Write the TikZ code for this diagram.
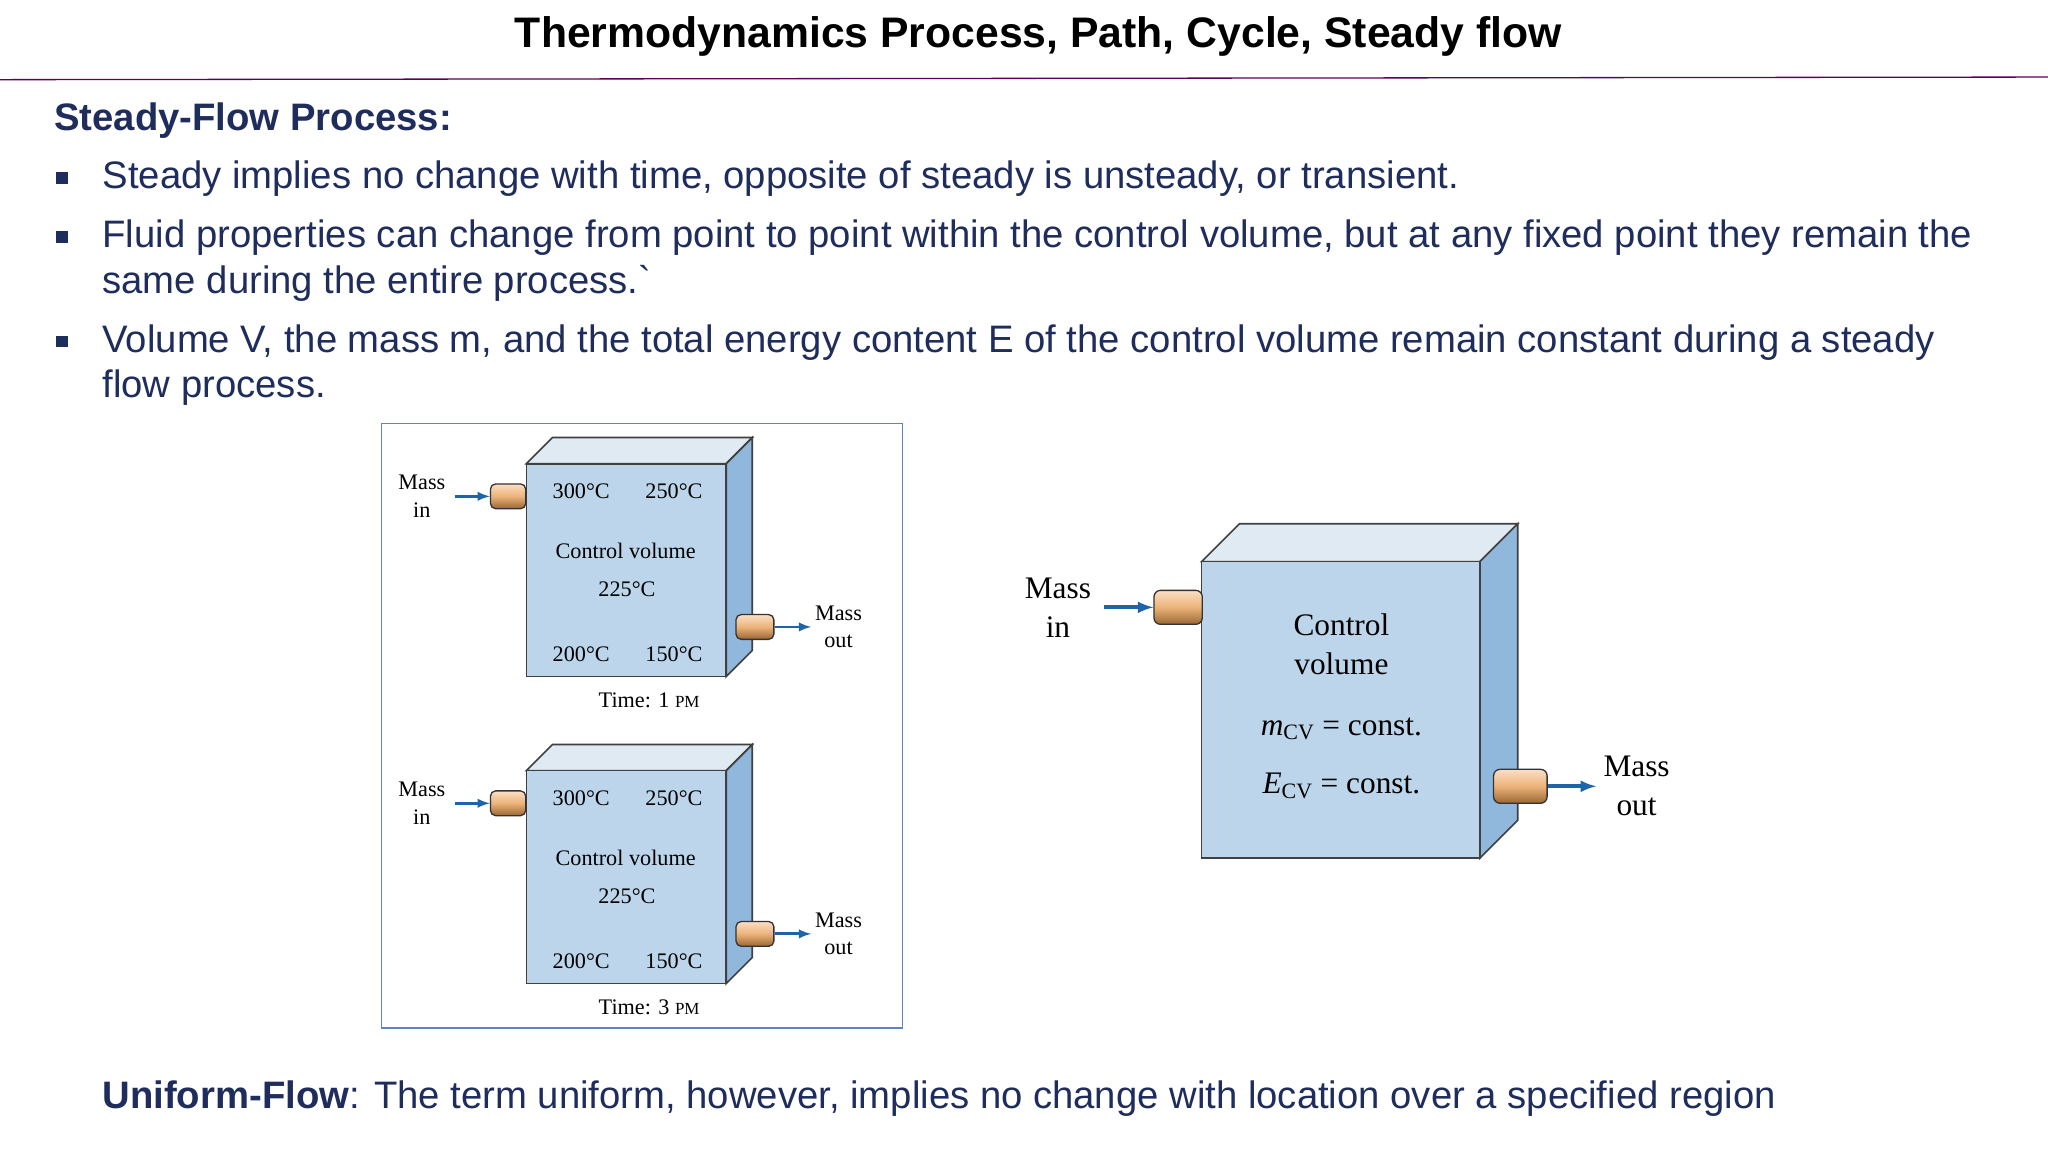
\documentclass[tikz,border=0pt]{standalone}
\usepackage{fontspec}
\setmainfont{Liberation Sans}
\newfontfamily\figfont{Liberation Serif}
\usetikzlibrary{positioning}
\definecolor{navy}{HTML}{1F2D5C}
\definecolor{frontc}{HTML}{BCD5EA}
\definecolor{sidec}{HTML}{8FB8DC}
\definecolor{topc}{HTML}{E0EAF3}
\definecolor{flowc}{HTML}{1F63A8}
\definecolor{framec}{HTML}{5B84C0}
\tikzset{
  body/.style={anchor=west, text=navy, font=\fontsize{29.3}{34}\selectfont},
  cvtext/.style={font=\figfont\fontsize{17}{20}\selectfont},
  bigtext/.style={font=\figfont\fontsize{24}{28}\selectfont},
  face/.style={draw=black!75, line width=1.3pt},
  pipe/.style={draw=black!80, line width=1pt, top color=brown!30!orange!25, bottom color=brown!80!black, middle color=brown!50!orange!60, shading angle=0},
  flow/.style={-latex, flowc, line width=2.2pt},
  bigflow/.style={-latex, flowc, line width=3pt}
}
% small control volume at vertical offset #1 with time #2
\newcommand{\cvbox}[3]{%
  \begin{scope}[yshift=#1]
    \fill[topc, face] (403,355) -- (423,335) -- (576,335) -- (556,355) -- cycle;
    \fill[sidec, face] (556,355) -- (576,335) -- (576,498) -- (556,518) -- cycle;
    \fill[frontc, face] (403,355) rectangle (556,518);
    \node[pipe, minimum width=27pt, minimum height=19pt, inner sep=0pt, rounded corners=4pt] (#3in) at (389,380) {};
    \node[pipe, minimum width=29pt, minimum height=19pt, inner sep=0pt, rounded corners=4pt] (#3out) at (578,480) {};
    \node[cvtext] at (445,376) {300°C};
    \node[cvtext] at (516,376) {250°C};
    \node[cvtext] at (479,422) {Control volume};
    \node[cvtext] at (480,451) {225°C};
    \node[cvtext] at (445,501) {200°C};
    \node[cvtext] at (516,501) {150°C};
    \node[cvtext, align=center] (#3min) at (323,380) {Mass\\[1pt]in};
    \node[cvtext, align=center] (#3mout) at (642,480) {Mass\\[1pt]out};
    \coordinate (#3a) at (348,380);
    \draw[flow] (#3a) -- (#3in.west);
    \coordinate (#3b) at (621,480);
    \draw[flow] (#3out.east) -- (#3b);
    \node[cvtext] at (497,536) {Time: #2 {\fontsize{13}{15}\selectfont PM}};
  \end{scope}}
\begin{document}
\begin{tikzpicture}[x=1pt,y=-1pt]
  \useasboundingbox (0,0) rectangle (1568,882);
  \fill[white] (0,0) rectangle (1568,882);

  % Title
  \node[font=\bfseries\fontsize{32.7}{38}\selectfont] (title) at (795,28) {Thermodynamics Process, Path, Cycle, Steady flow};
  \draw[violet!70!black, line width=1pt] (0,61) -- (1568,59);

  % Text
  \node[body, font=\bfseries\fontsize{29.3}{34}\selectfont] at (38,92) {Steady-Flow Process:};
  \foreach \y in {137,182,262}
    \fill[navy] (43,\y-5) rectangle (52,\y+4);
  \node[body] at (75,137) {Steady implies no change with time, opposite of steady is unsteady, or transient.};
  \node[body] at (75,182) {Fluid properties can change from point to point within the control volume, but at any fixed point they remain the};
  \node[body] at (75,217) {same during the entire process.\textasciigrave};
  \node[body] at (75,262) {Volume V, the mass m, and the total energy content E of the control volume remain constant during a steady};
  \node[body] at (75,297) {flow process.};

  % Left figure
  \draw[framec, line width=1pt] (292,324) rectangle (691,787);
  \cvbox{0}{1}{p}
  \cvbox{-235}{3}{q}

  % Right figure
  \fill[topc, face] (920,430) -- (949,401) -- (1162,401) -- (1133,430) -- cycle;
  \fill[sidec, face] (1133,430) -- (1162,401) -- (1162,628) -- (1133,657) -- cycle;
  \fill[frontc, face] (920,430) rectangle (1133,657);
  \node[pipe, minimum width=37pt, minimum height=26pt, inner sep=0pt, rounded corners=5pt] (bigin) at (902,465) {};
  \node[pipe, minimum width=41pt, minimum height=26pt, inner sep=0pt, rounded corners=5pt] (bigout) at (1164,602) {};
  \node[bigtext, align=center] at (1027,493) {Control\\[2pt]volume};
  \node[bigtext] at (1027,558) {\textit{m}\textsubscript{CV} = const.};
  \node[bigtext] at (1027,602) {\textit{E}\textsubscript{CV} = const.};
  \node[bigtext, align=center] (bigmin) at (810,465) {Mass\\[2pt]in};
  \node[bigtext, align=center] (bigmout) at (1253,602) {Mass\\[2pt]out};
  \coordinate (ba) at (845,465);
  \draw[bigflow] (ba) -- (bigin.west);
  \coordinate (bb) at (1222,602);
  \draw[bigflow] (bigout.east) -- (bb);

  % Bottom line
  \node[body] at (75,841) {\textbf{Uniform-Flow}: The term uniform, however, implies no change with location over a specified region};
\end{tikzpicture}
\end{document}
